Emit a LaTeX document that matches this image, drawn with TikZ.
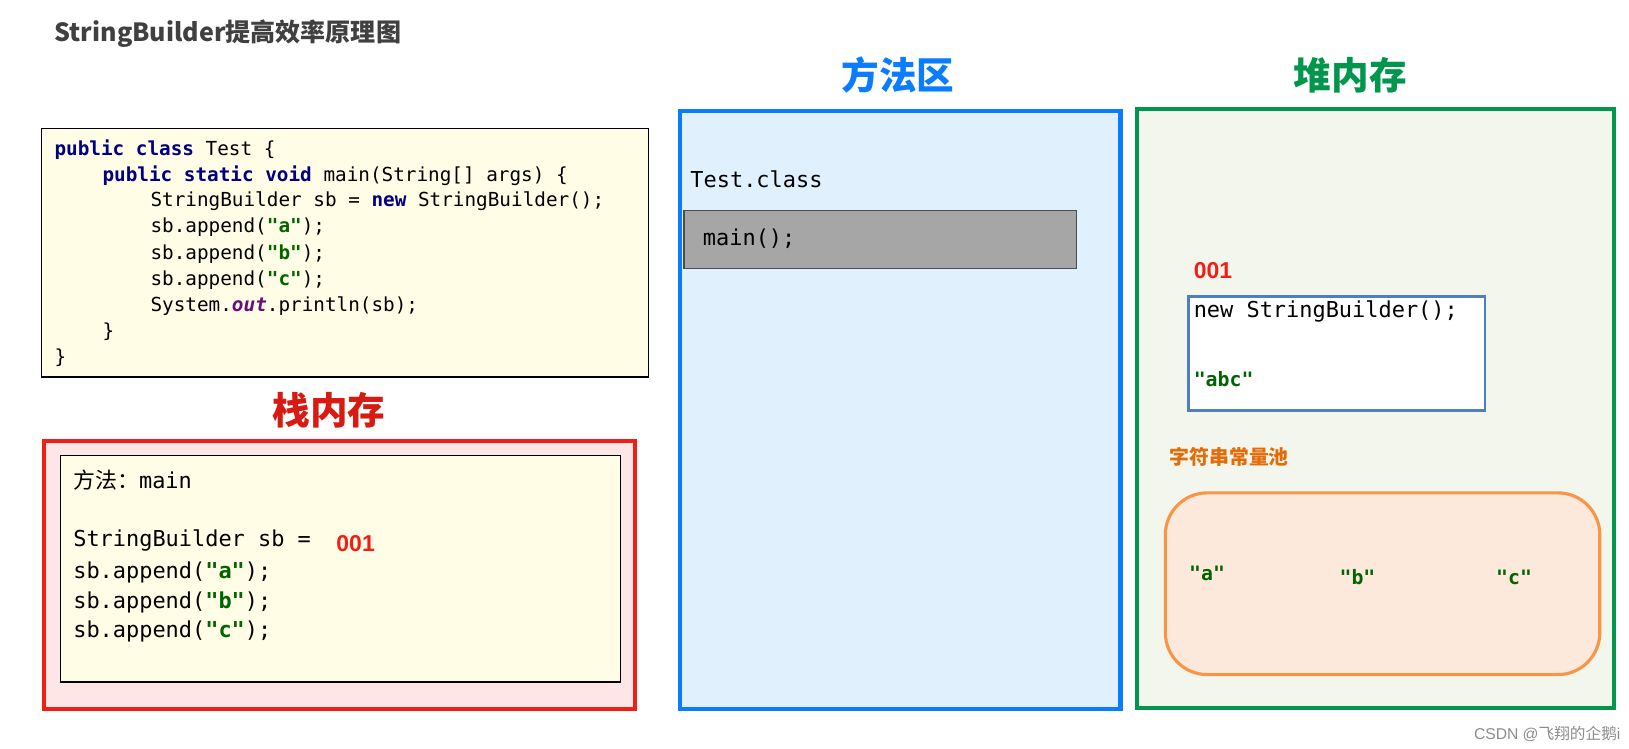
\documentclass[tikz,border=0pt]{standalone}
\usepackage{fontspec}
\setmainfont{Liberation Sans}
\setmonofont{DejaVu Sans Mono}
\newfontfamily\cjk{Noto Sans CJK SC}
\definecolor{kw}{HTML}{000080}
\definecolor{strg}{HTML}{006400}
\definecolor{outc}{HTML}{660E7A}
\definecolor{codebg}{HTML}{FFFDE6}
\definecolor{redc}{HTML}{F01E14}
\definecolor{redbg}{HTML}{FFE6E6}
\definecolor{bluec}{HTML}{0A7CFF}
\definecolor{bluebg}{HTML}{E1F0FD}
\definecolor{greenc}{HTML}{00964B}
\definecolor{greenbg}{HTML}{F2F6EC}
\definecolor{orangec}{HTML}{F79646}
\definecolor{orangebg}{HTML}{FDE9DB}
\definecolor{titlec}{HTML}{E36C09}
\definecolor{objc}{HTML}{4F7FBF}
\begin{document}
\begin{tikzpicture}[x=1pt,y=-1pt,
  lbl/.style={anchor=west,inner sep=0pt},
  code/.style={lbl,font=\ttfamily\fontsize{18.5}{18.5}\selectfont},
  code2/.style={lbl,font=\ttfamily\fontsize{21}{21}\selectfont},
  head/.style={font=\cjk\bfseries\fontsize{36}{36}\selectfont},
  str/.style={text=strg,font=\ttfamily\bfseries\fontsize{19}{19}\selectfont,inner sep=0pt},
  boxx/.style={anchor=north west,inner sep=0pt,outer sep=0pt}]
\useasboundingbox (0,0) rectangle (1560,717);
\node[lbl,text=black!75,font=\cjk\bfseries\fontsize{24}{24}\selectfont] (title) at (52,32) {StringBuilder提高效率原理图};
% code box
\node[boxx,draw=black,line width=1.2pt,fill=codebg,minimum width=581pt,minimum height=238pt] (codebox) at (40,123) {};
\node[code] (c1) at (52,143) {\textcolor{kw}{\bfseries public class} Test \{};
\node[code] (c2) at (98,168) {\textcolor{kw}{\bfseries public static void} main(String[] args) \{};
\node[code] (c3) at (144,193) {StringBuilder sb = \textcolor{kw}{\bfseries new} StringBuilder();};
\node[code] (c4) at (144,218) {sb.append(\textcolor{strg}{\bfseries "a"});};
\node[code] (c5) at (144,243) {sb.append(\textcolor{strg}{\bfseries "b"});};
\node[code] (c6) at (144,268) {sb.append(\textcolor{strg}{\bfseries "c"});};
\node[code] (c7) at (144,293) {System.\textcolor{outc}{\bfseries\itshape out}.println(sb);};
\node[code] (c8) at (98,318) {\}};
\node[code] (c9) at (52,343) {\}};
% stack
\node[head,text=redc!90!black] (stackt) at (315,393) {栈内存};
\node[boxx,draw=redc,line width=4pt,fill=redbg,minimum width=566pt,minimum height=257pt] (stack) at (42,422) {};
\node[boxx,draw=black,line width=1.2pt,fill=codebg,minimum width=536pt,minimum height=217pt] (frame) at (58,436) {};
\node[code2] (s1) at (70,460) {{\cjk 方法：}main};
\node[code2] (s2) at (70,518) {StringBuilder sb = };
\node[lbl,text=redc,font=\bfseries\fontsize{22}{22}\selectfont] (s2v) at (322,521) {001};
\node[code2] (s3) at (70,548) {sb.append(\textcolor{strg}{\bfseries "a"});};
\node[code2] (s4) at (70,577) {sb.append(\textcolor{strg}{\bfseries "b"});};
\node[code2] (s5) at (70,605) {sb.append(\textcolor{strg}{\bfseries "c"});};
% method area
\node[head,text=bluec] (mat) at (860,72) {方法区};
\node[boxx,draw=bluec,line width=4pt,fill=bluebg,minimum width=422pt,minimum height=573pt] (ma) at (651,106) {};
\node[code2] (tc) at (661,172) {Test.class};
\node[boxx,draw=black!70,line width=1pt,fill=black!35,minimum width=376pt,minimum height=55pt] (mainbox) at (655,202) {};
\node[code2] (mt) at (673,229) {main();};
% heap
\node[head,text=greenc] (heapt) at (1293,72) {堆内存};
\node[boxx,draw=greenc,line width=4pt,fill=greenbg,minimum width=457pt,minimum height=574pt] (heap) at (1089,104) {};
\node[lbl,text=redc,font=\bfseries\fontsize{22}{22}\selectfont] (obid) at (1143,259) {001};
\node[boxx,draw=objc,line width=2.5pt,fill=white,minimum width=284pt,minimum height=109pt] (obj) at (1138,284) {};
\node[code2] (objt) at (1143,298) {new StringBuilder();};
\node[str,anchor=west] (abc) at (1143,363) {"abc"};
\node[lbl,text=titlec,font=\cjk\bfseries\fontsize{19}{19}\selectfont] (poolt) at (1120,438) {字符串常量池};
\node[boxx,draw=orangec,line width=3pt,fill=orangebg,rounded corners=40pt,minimum width=416pt,minimum height=174pt] (pool) at (1116,472) {};
\node[str] (pa) at (1156,549) {"a"};
\node[str] (pb) at (1300,553) {"b"};
\node[str] (pc) at (1450,553) {"c"};
\node[anchor=east,inner sep=0pt,text=black!45,font=\fontsize{15}{15}\selectfont] (wm) at (1552,703) {CSDN @{\cjk 飞翔的企鹅}i};
\end{tikzpicture}
\end{document}
